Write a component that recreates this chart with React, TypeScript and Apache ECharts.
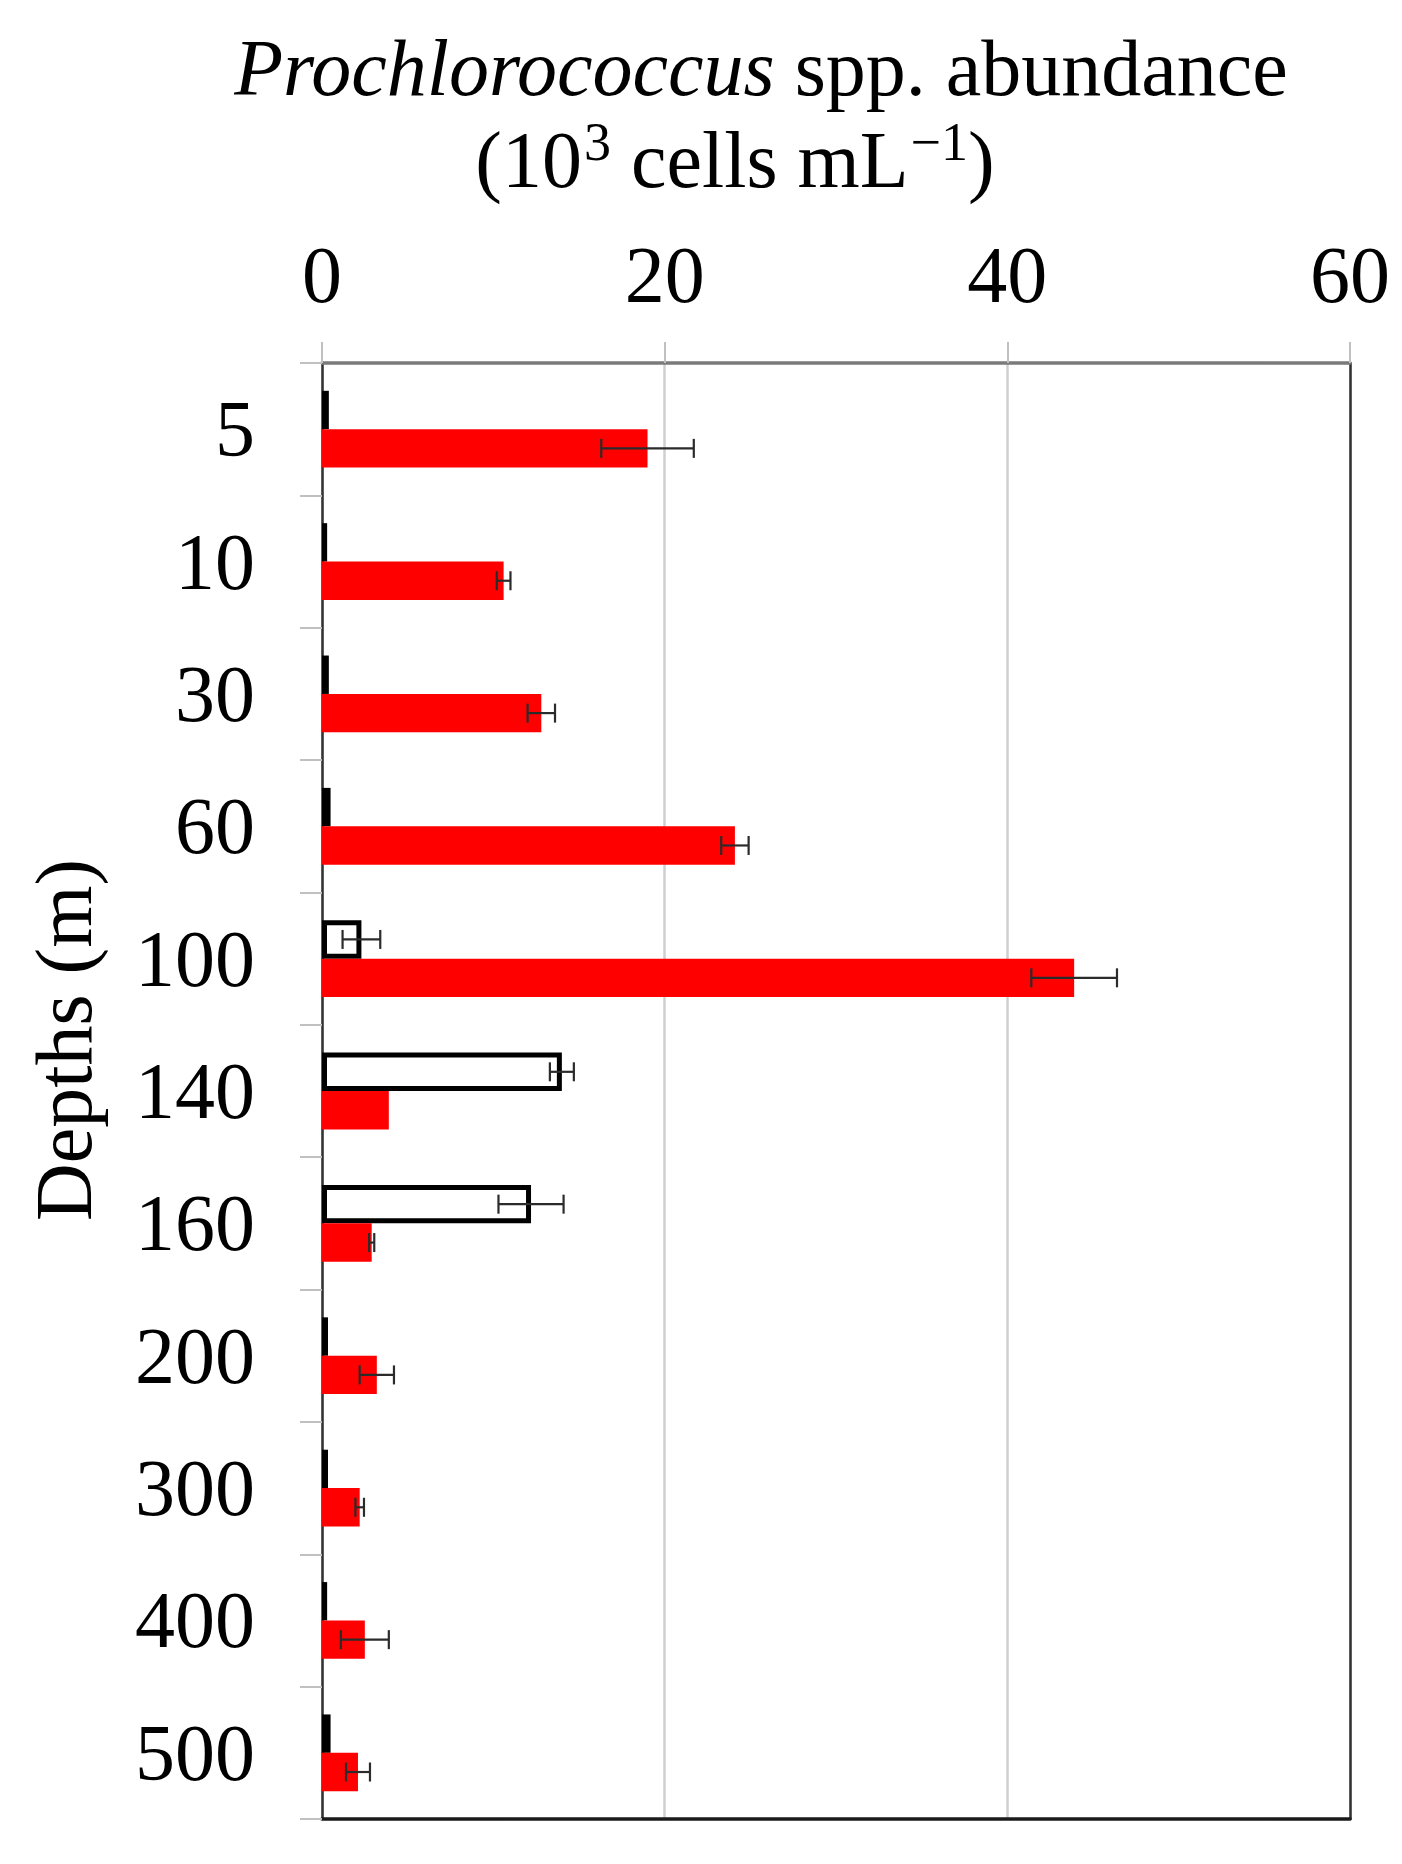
import React, { useEffect, useRef } from "react";
import * as echarts from "echarts";

const depths = ["5", "10", "30", "60", "100", "140", "160", "200", "300", "400", "500"];
const openVals = [0.4, 0.3, 0.4, 0.5, 2.3, 14.0, 12.2, 0.35, 0.35, 0.3, 0.5];
const openErr = [0, 0, 0, 0, 1.1, 0.7, 1.9, 0, 0, 0, 0];
const redVals = [19.0, 10.6, 12.8, 24.1, 43.9, 3.9, 2.9, 3.2, 2.2, 2.5, 2.1];
const redErr = [2.7, 0.4, 0.8, 0.8, 2.5, 0, 0.15, 1.0, 0.25, 1.4, 0.7];
const xTicks = { min: 0, max: 60, interval: 20 };

const FONT = "'Liberation Serif', 'Times New Roman', serif";

function errData(vals: number[], errs: number[]) {
  const out: number[][] = [];
  vals.forEach((v, i) => {
    if (errs[i] > 0) out.push([i, v, errs[i]]);
  });
  return out;
}

function makeErrRender(off: number) {
  return (params: any, api: any) => {
    const i = api.value(0);
    const v = api.value(1);
    const e = api.value(2);
    const band = api.size([0, 1])[1];
    const c = api.coord([v, i]);
    const y = c[1] + off * band;
    const x1 = api.coord([v - e, i])[0];
    const x2 = api.coord([v + e, i])[0];
    const h = 9.5;
    const st = { stroke: "#2b2b2b", lineWidth: 2.2 };
    return {
      type: "group",
      children: [
        { type: "line", shape: { x1, y1: y, x2, y2: y }, style: st },
        { type: "line", shape: { x1, y1: y - h, x2: x1, y2: y + h }, style: st },
        { type: "line", shape: { x1: x2, y1: y - h, x2, y2: y + h }, style: st },
      ],
    };
  };
}

export default function App() {
  const ref = useRef<HTMLDivElement>(null);
  useEffect(() => {
    document.body.style.margin = "0";
    const chart = echarts.init(ref.current!, null, { renderer: "svg" });
    chart.setOption({
      animation: false,
      backgroundColor: "#ffffff",
      grid: { left: 322, right: 52, top: 363, bottom: 45, containLabel: false },
      xAxis: [
        {
          type: "value",
          position: "top",
          min: xTicks.min,
          max: xTicks.max,
          interval: xTicks.interval,
          axisLine: { show: true, onZero: false, lineStyle: { color: "#7a7a7a", width: 3.5 } },
          axisTick: { show: true, length: 21, lineStyle: { color: "#c0c0c0", width: 2 } },
          axisLabel: { fontSize: 80, fontFamily: FONT, color: "#000", margin: 48 },
          splitLine: { show: true, lineStyle: { color: "#cfcfcf", width: 2.5 } },
        },
        {
          type: "value",
          position: "bottom",
          min: xTicks.min,
          max: xTicks.max,
          axisLine: { show: true, onZero: false, lineStyle: { color: "#1a1a1a", width: 3.5 } },
          axisTick: { show: false },
          axisLabel: { show: false },
          splitLine: { show: false },
        },
      ],
      yAxis: [
        {
          type: "category",
          data: depths,
          inverse: true,
          position: "left",
          axisLine: { show: true, onZero: false, lineStyle: { color: "#333333", width: 2.5 } },
          axisTick: { show: true, length: 22, lineStyle: { color: "#c0c0c0", width: 2 } },
          axisLabel: { fontSize: 80, fontFamily: FONT, color: "#000", margin: 67 },
          splitLine: { show: false },
        },
        {
          type: "value",
          position: "right",
          min: 0,
          max: 1,
          axisLine: { show: true, onZero: false, lineStyle: { color: "#333333", width: 2.5 } },
          axisTick: { show: false },
          axisLabel: { show: false },
          splitLine: { show: false },
        },
      ],
      series: [
        {
          type: "bar",
          data: openVals,
          barGap: "0%",
          barCategoryGap: "42%",
          itemStyle: { color: "#ffffff", borderColor: "#000000", borderWidth: 5 },
          z: 3,
        },
        {
          type: "bar",
          data: redVals,
          barGap: "0%",
          barCategoryGap: "42%",
          itemStyle: { color: "#ff0000" },
          z: 3,
        },
        {
          type: "custom",
          data: errData(openVals, openErr),
          encode: { x: 1, y: 0 },
          renderItem: makeErrRender(-0.145),
          clip: false,
          z: 5,
        },
        {
          type: "custom",
          data: errData(redVals, redErr),
          encode: { x: 1, y: 0 },
          renderItem: makeErrRender(0.145),
          clip: false,
          z: 5,
        },
      ],
      graphic: [
        {
          type: "text",
          x: 761,
          y: 68,
          style: {
            text: "{i|Prochlorococcus}{n| spp. abundance}",
            align: "center",
            verticalAlign: "middle",
            rich: {
              i: { fontSize: 80, fontFamily: FONT, fontStyle: "italic", fill: "#000" },
              n: { fontSize: 80, fontFamily: FONT, fill: "#000" },
            },
          },
        },
        {
          type: "text",
          x: 735,
          y: 160,
          style: {
            text: "{n|(10}{s|3}{n| cells mL}{s|\u22121}{n|)}",
            align: "center",
            verticalAlign: "middle",
            rich: {
              n: { fontSize: 80, fontFamily: FONT, fill: "#000", lineHeight: 90 },
              s: { fontSize: 54, fontFamily: FONT, fill: "#000", lineHeight: 90, verticalAlign: "top", padding: [0, 0, 0, 2] },
            },
          },
        },
        {
          type: "text",
          x: 64,
          y: 1040,
          rotation: Math.PI / 2,
          style: {
            text: "Depths (m)",
            align: "center",
            verticalAlign: "middle",
            fontSize: 80,
            fontFamily: FONT,
            fill: "#000",
          },
        },
      ],
    });
    return () => chart.dispose();
  }, []);
  return (
    <div
      ref={ref}
      style={{ position: "absolute", left: 0, top: 0, width: 1402, height: 1864 }}
    />
  );
}
